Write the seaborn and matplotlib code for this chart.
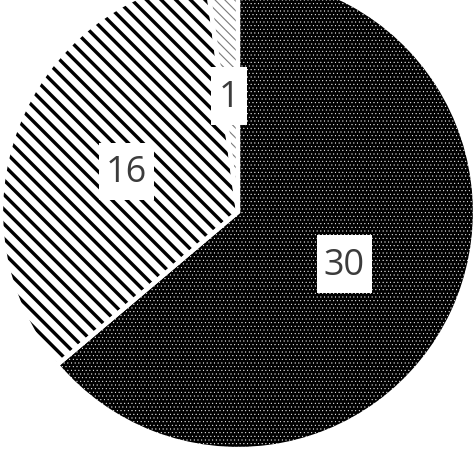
import matplotlib
matplotlib.use("Agg")
import matplotlib.pyplot as plt
from matplotlib.path import Path
from matplotlib.transforms import ScaledTranslation
import seaborn as sns

# ---- data ----
values = [1, 16, 30]
labels = ["1", "16", "30"]

# ---- styles ----
face_colors = ["white", "white", "black"]
hatch_colors = ["#7a7a7a", "black", "white"]
hatches = ["\\\\\\", "\\\\", "...."]
hatch_widths = [0.9, 2.8, 0.35]

sns.set_style("white")
plt.rcParams["font.family"] = ["Open Sans", "DejaVu Sans"]

DPI = 88
fig = plt.figure(figsize=(474 / DPI, 474 / DPI), dpi=DPI)
ax = fig.add_axes([0, 0, 1, 1])

total = sum(values)
wedges, _, autotexts = ax.pie(
    values,
    startangle=90,
    counterclock=True,
    colors=face_colors,
    autopct=lambda p: f"{p * total / 100:.0f}",
    pctdistance=0.5,
    wedgeprops=dict(linewidth=0),
)


def with_hatch_lw(patch, lw):
    if hasattr(patch, "set_hatch_linewidth"):
        patch.set_hatch_linewidth(lw)
    orig = patch.draw

    def draw(renderer):
        with plt.rc_context({"hatch.linewidth": lw}):
            orig(renderer)

    patch.draw = draw


for w, h, hc, lw in zip(wedges, hatches, hatch_colors, hatch_widths):
    w.set_hatch(h)
    w.set_edgecolor(hc)
    w.set_linewidth(0)
    with_hatch_lw(w, lw)

# white separators between slices
ax.pie(
    values,
    startangle=90,
    counterclock=True,
    colors=["none"] * len(values),
    wedgeprops=dict(edgecolor="white", linewidth=3.5, fill=False),
)


def label_box(x0, y0, width, height, mutation_size):
    px = 0.2 * mutation_size
    pyb = 0.25 * mutation_size
    pyt = 0.35 * mutation_size
    x1, y1 = x0 + width, y0 + height
    verts = [(x0 - px, y0 - pyb), (x1 + px, y0 - pyb), (x1 + px, y1 + pyt),
             (x0 - px, y1 + pyt), (x0 - px, y0 - pyb)]
    return Path(verts, closed=True)


shift = ScaledTranslation(-1 / DPI, -4 / DPI, fig.dpi_scale_trans)
for t in autotexts:
    t.set_fontsize(29.5)
    t.set_color("#3c3c3c")
    t.set_zorder(10)
    t.set_transform(ax.transData + shift)
    t.set_bbox(dict(boxstyle=label_box, facecolor="white", edgecolor="none"))

R = 237.0
cx, cy = 238.0, 212.0
ax.set_xlim(-cx / R, (474 - cx) / R)
ax.set_ylim(-(474 - cy) / R, cy / R)
ax.set_axis_off()

fig.savefig("out.png", dpi=DPI, facecolor="white")
